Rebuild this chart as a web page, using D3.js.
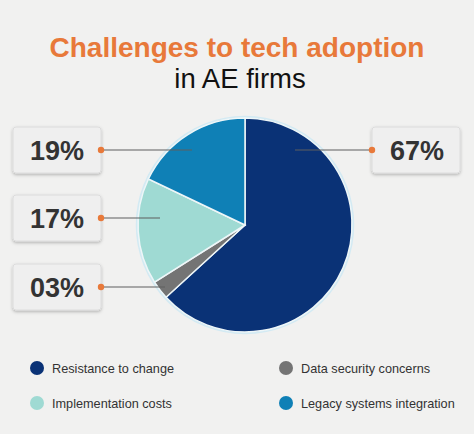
<!DOCTYPE html>
<html>
<head>
<meta charset="utf-8">
<script src="https://cdn.jsdelivr.net/npm/d3@7"></script>
<style>
  html, body { margin: 0; padding: 0; background: #f1f1f0; }
  svg { display: block; font-family: "Liberation Sans", Arial, sans-serif; }
</style>
</head>
<body>
<div id="chart"></div>
<script>
// data, in drawing order (clockwise from 12 o'clock)
var categories = ["Resistance to change", "Data security concerns", "Implementation costs", "Legacy systems integration"];
var values = [67, 3, 17, 19];
var labels = ["67%", "03%", "17%", "19%"];
var colors = ["#0a3276", "#747474", "#9fdad3", "#0f80b6"];

var width = 474, height = 434;
var cx = 245, cy = 225, radius = 107;

var svg = d3.select("#chart").append("svg")
    .attr("width", width)
    .attr("height", height);

var defs = svg.append("defs");
var shadow = defs.append("filter")
    .attr("id", "boxShadow")
    .attr("x", "-20%").attr("y", "-20%")
    .attr("width", "140%").attr("height", "160%");
shadow.append("feDropShadow")
    .attr("dx", 0).attr("dy", 1.5)
    .attr("stdDeviation", 1.5)
    .attr("flood-color", "#000")
    .attr("flood-opacity", 0.25);

// title
svg.append("text")
    .attr("x", 237).attr("y", 57)
    .attr("text-anchor", "middle")
    .style("font-size", "28px")
    .style("font-weight", "bold")
    .style("fill", "#e8793a")
    .text("Challenges to tech adoption");
svg.append("text")
    .attr("x", 240).attr("y", 88)
    .attr("text-anchor", "middle")
    .style("font-size", "27.5px")
    .style("fill", "#111")
    .text("in AE firms");

// pie
var pie = d3.pie().sort(null).value(function (d) { return d; });
var arc = d3.arc().innerRadius(0).outerRadius(radius);
var arcs = pie(values);

var pieG = svg.append("g")
    .attr("transform", "translate(" + cx + "," + cy + ")");

pieG.append("circle")
    .attr("r", radius + 1)
    .attr("fill", "none")
    .attr("stroke", "#d3eaf3")
    .attr("stroke-width", 2.5);

pieG.selectAll("path.slice")
    .data(arcs)
    .enter().append("path")
    .attr("class", "slice")
    .attr("d", arc)
    .attr("fill", function (d, i) { return colors[i]; })
    .attr("stroke", "#eef6f8")
    .attr("stroke-width", 1.5);

// callouts: box position + line end inside slice
var callouts = [
    { i: 0, boxX: 372, boxY: 127, side: "right", lineEnd: 295 },
    { i: 3, boxX: 13, boxY: 127, side: "left", lineEnd: 192 },
    { i: 2, boxX: 13, boxY: 195, side: "left", lineEnd: 160 },
    { i: 1, boxX: 13, boxY: 264, side: "left", lineEnd: 165 }
];
var boxW = 88, boxH = 46;

callouts.forEach(function (c) {
    var ly = c.boxY + boxH / 2;
    var dotX = c.side === "left" ? c.boxX + boxW : c.boxX;
    svg.append("line")
        .attr("x1", dotX).attr("x2", c.lineEnd)
        .attr("y1", ly).attr("y2", ly)
        .attr("stroke", "#5f5f5f")
        .attr("stroke-width", 1.2);
    svg.append("rect")
        .attr("x", c.boxX).attr("y", c.boxY)
        .attr("width", boxW).attr("height", boxH)
        .attr("rx", 3)
        .attr("fill", "#efefef")
        .attr("stroke", "#dcdcdc")
        .attr("filter", "url(#boxShadow)");
    svg.append("text")
        .attr("x", c.boxX + boxW / 2 + (c.side === "left" ? 0 : 1))
        .attr("y", ly + 9.5)
        .attr("text-anchor", "middle")
        .style("font-size", "27px")
        .style("font-weight", "bold")
        .style("fill", "#333")
        .text(labels[c.i]);
    svg.append("circle")
        .attr("cx", dotX).attr("cy", ly)
        .attr("r", 3.2)
        .attr("fill", "#e8793a");
});

// legend
var legendPos = [
    { x: 37, y: 368 },
    { x: 286, y: 368 },
    { x: 37, y: 403 },
    { x: 286, y: 403 }
];
var legend = svg.selectAll("g.legend")
    .data(categories)
    .enter().append("g")
    .attr("class", "legend")
    .attr("transform", function (d, i) {
        return "translate(" + legendPos[i].x + "," + legendPos[i].y + ")";
    });
legend.append("circle")
    .attr("r", 7)
    .attr("fill", function (d, i) { return colors[i]; });
legend.append("text")
    .attr("x", 15)
    .attr("y", 4.5)
    .style("font-size", "12.7px")
    .style("fill", "#333")
    .text(function (d) { return d; });
</script>
</body>
</html>
